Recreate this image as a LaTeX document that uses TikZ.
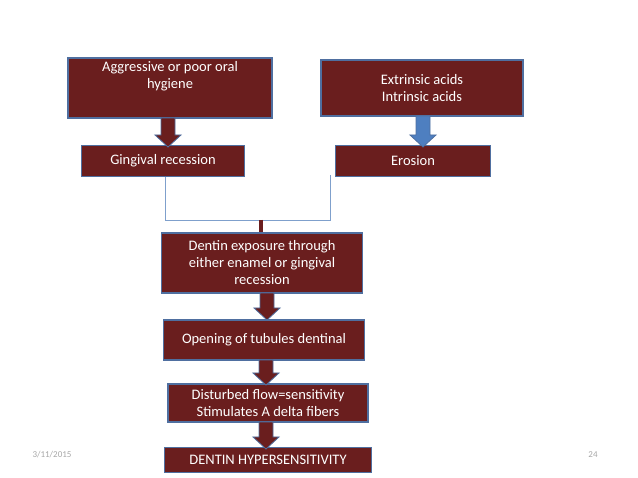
\documentclass[tikz,border=0pt]{standalone}
\usepackage{fontspec}
\setmainfont{Carlito}
\definecolor{Maroon}{HTML}{6A1E1E}
\definecolor{EdgeBlue}{HTML}{4F6FA0}
\definecolor{ArrowBlue}{HTML}{4E7FC0}
\definecolor{LineBlue}{HTML}{7FA0CC}
% block arrow pointing down: x, top y, bottom y, fill
\newcommand\blockdown[4]{%
  \draw[draw=EdgeBlue,line width=0.8pt,fill=#4]
    (#1-7,#2) -- (#1+7,#2) -- (#1+7,#3-12) -- (#1+13,#3-12) -- (#1,#3)
    -- (#1-13,#3-12) -- (#1-7,#3-12) -- cycle;}
\begin{document}
\begin{tikzpicture}[x=1pt,y=-1pt,font=\fontsize{14.5}{17}\selectfont,
  box/.style={draw=EdgeBlue,line width=1.2pt,fill=Maroon,text=white,align=center,inner sep=0pt}]
  \useasboundingbox (0,0) rectangle (638,478);

  % footer
  \node[text=gray!70,font=\fontsize{9}{11}\selectfont] (date) at (52,455) {3/11/2015};
  \node[text=gray!70,font=\fontsize{9}{11}\selectfont] (title) at (322,455) {Dentin hypersensitivity};
  \node[text=gray!70,font=\fontsize{9}{11}\selectfont] (page) at (593,455) {24};

  % boxes
  \node[box,minimum width=204pt,minimum height=60pt] (aggr) at (170,88) {Aggressive or poor oral\\hygiene\\[10pt]};
  \node[box,minimum width=202pt,minimum height=56pt] (acids) at (422,88) {Extrinsic acids\\Intrinsic acids};
  \node[box,minimum width=163pt,minimum height=31pt] (ging) at (163,161) {Gingival recession};
  \node[box,minimum width=155pt,minimum height=31pt] (eros) at (413,161) {Erosion};
  \node[box,minimum width=201pt,minimum height=60pt] (expo) at (262,263) {Dentin exposure through\\either enamel or gingival\\recession};
  \node[box,minimum width=201pt,minimum height=40pt] (tubu) at (264,340) {Opening of tubules dentinal};
  \node[box,minimum width=200pt,minimum height=38pt] (flow) at (268,403) {Disturbed flow=sensitivity\\Stimulates A delta fibers};
  \node[box,minimum width=207pt,minimum height=25pt] (hyper) at (268,460) {DENTIN HYPERSENSITIVITY};

  % block arrows
  \blockdown{168}{118}{147}{Maroon}
  \blockdown{423}{116}{147}{ArrowBlue}
  \blockdown{267}{293}{320}{Maroon}
  \blockdown{266}{360}{385}{Maroon}
  \blockdown{266}{422}{449}{Maroon}

  % joining lines
  \coordinate (join) at (261,220);
  \coordinate (gfoot) at (165,177);
  \coordinate (efoot) at (330,175);
  \draw[LineBlue,line width=0.7pt] (gfoot) |- (join);
  \draw[LineBlue,line width=0.7pt] (efoot) |- (join);
  \draw[Maroon,line width=4pt] (join) -- (expo.north -| join);
\end{tikzpicture}
\end{document}
